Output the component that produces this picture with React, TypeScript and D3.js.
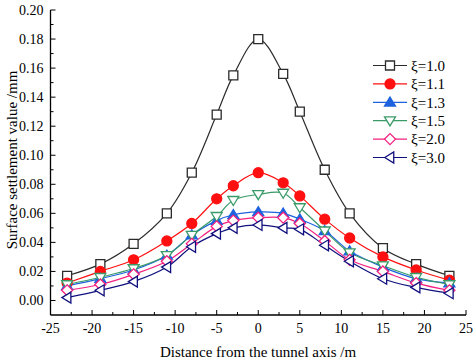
import { useEffect, useRef } from "react";
import * as d3 from "d3";

const distances = [-23, -19, -15, -11, -8, -5, -3, 0, 3, 5, 8, 11, 15, 19, 23];

const xi10 = [0.017, 0.025, 0.039, 0.060, 0.088, 0.128, 0.155, 0.180, 0.156, 0.130, 0.090, 0.060, 0.036, 0.025, 0.017];
const xi11 = [0.012, 0.020, 0.028, 0.041, 0.053, 0.070, 0.079, 0.088, 0.081, 0.072, 0.056, 0.043, 0.030, 0.021, 0.014];
const xi13 = [0.010, 0.015, 0.021, 0.031, 0.045, 0.055, 0.059, 0.061, 0.060, 0.056, 0.048, 0.034, 0.023, 0.015, 0.012];
const xi15 = [0.011, 0.016, 0.022, 0.031, 0.045, 0.058, 0.069, 0.073, 0.074, 0.064, 0.048, 0.033, 0.024, 0.016, 0.011];
const xi20 = [0.007, 0.011, 0.018, 0.027, 0.039, 0.051, 0.055, 0.057, 0.057, 0.053, 0.041, 0.028, 0.020, 0.012, 0.007];
const xi30 = [0.002, 0.007, 0.013, 0.023, 0.037, 0.046, 0.050, 0.052, 0.050, 0.049, 0.038, 0.027, 0.015, 0.009, 0.005];

const xTicks = [-25, -20, -15, -10, -5, 0, 5, 10, 15, 20, 25];
const yTicks = [0, 0.02, 0.04, 0.06, 0.08, 0.1, 0.12, 0.14, 0.16, 0.18, 0.2];

type Marker = "square" | "circle" | "up" | "down" | "diamond" | "left";

const series: { name: string; values: number[]; color: string; marker: Marker; filled: boolean }[] = [
  { name: "ξ=1.0", values: xi10, color: "#2b2b2b", marker: "square", filled: false },
  { name: "ξ=1.1", values: xi11, color: "#ff1010", marker: "circle", filled: true },
  { name: "ξ=1.3", values: xi13, color: "#1d62de", marker: "up", filled: true },
  { name: "ξ=1.5", values: xi15, color: "#3a9a68", marker: "down", filled: false },
  { name: "ξ=2.0", values: xi20, color: "#f5207f", marker: "diamond", filled: false },
  { name: "ξ=3.0", values: xi30, color: "#10107e", marker: "left", filled: false },
];

const markerPath = (m: Marker, s: number) => {
  const h = s / 2;
  switch (m) {
    case "square":
      return `M${-h},${-h}H${h}V${h}H${-h}Z`;
    case "circle":
      return d3.symbol(d3.symbolCircle, s * s * 0.785)() as string;
    case "up":
      return `M0,${-h * 1.05}L${h * 1.1},${h * 0.75}L${-h * 1.1},${h * 0.75}Z`;
    case "down":
      return `M0,${h * 1.05}L${h * 1.1},${-h * 0.75}L${-h * 1.1},${-h * 0.75}Z`;
    case "diamond":
      return `M0,${-h * 1.1}L${h * 1.1},0L0,${h * 1.1}L${-h * 1.1},0Z`;
    case "left":
      return `M${-h * 1.05},0L${h * 0.75},${-h * 1.1}L${h * 0.75},${h * 1.1}Z`;
  }
};

export default function App() {
  const svgRef = useRef<SVGSVGElement>(null);
  const width = 474;
  const height = 362;

  useEffect(() => {
    if (!svgRef.current) return;
    const svg = d3.select(svgRef.current);
    svg.selectAll("*").remove();

    const x = d3.scaleLinear().domain([-25, 25]).range([50.5, 466]);
    const y = d3.scaleLinear().domain([-0.01, 0.2]).range([315, 10]);
    const font = "'Liberation Serif', 'Times New Roman', serif";

    const g = svg.append("g");

    // axes lines
    g.append("line")
      .attr("x1", x(-25)).attr("x2", x(-25))
      .attr("y1", y(0.2)).attr("y2", y(-0.01))
      .attr("stroke", "#000").attr("stroke-width", 1.3);
    g.append("line")
      .attr("x1", x(-25)).attr("x2", x(25))
      .attr("y1", y(-0.01)).attr("y2", y(-0.01))
      .attr("stroke", "#000").attr("stroke-width", 1.3);

    // y ticks (inward)
    const yMinor = d3.range(0, 21).map(i => i * 0.01 - 0.0);
    g.selectAll("line.ytick")
      .data(yMinor)
      .join("line")
      .attr("x1", x(-25))
      .attr("x2", (d, i) => x(-25) + (i % 2 === 0 ? 5 : 3))
      .attr("y1", d => y(d))
      .attr("y2", d => y(d))
      .attr("stroke", "#000")
      .attr("stroke-width", 1);
    g.selectAll("text.ylab")
      .data(yTicks)
      .join("text")
      .attr("x", x(-25) - 7)
      .attr("y", d => y(d))
      .attr("dy", "0.35em")
      .attr("text-anchor", "end")
      .attr("font-family", font)
      .attr("font-size", 14)
      .text(d => d3.format(".2f")(d));

    // x ticks (inward)
    const xMinor = d3.range(0, 21).map(i => -25 + i * 2.5);
    g.selectAll("line.xtick")
      .data(xMinor)
      .join("line")
      .attr("x1", d => x(d))
      .attr("x2", d => x(d))
      .attr("y1", y(-0.01))
      .attr("y2", (d, i) => y(-0.01) - (i % 2 === 0 ? 5 : 3))
      .attr("stroke", "#000")
      .attr("stroke-width", 1);
    g.selectAll("text.xlab")
      .data(xTicks)
      .join("text")
      .attr("x", d => x(d))
      .attr("y", 333)
      .attr("text-anchor", "middle")
      .attr("font-family", font)
      .attr("font-size", 14)
      .text(d => String(d));

    // axis titles
    g.append("text")
      .attr("x", 258)
      .attr("y", 357)
      .attr("text-anchor", "middle")
      .attr("font-family", font)
      .attr("font-size", 15)
      .text("Distance from the tunnel axis /m");
    g.append("text")
      .attr("transform", `translate(17,160) rotate(-90)`)
      .attr("text-anchor", "middle")
      .attr("font-family", font)
      .attr("font-size", 15)
      .text("Surface settlement value /mm");

    const line = d3.line<number>()
      .x((d, i) => x(distances[i]))
      .y(d => y(d))
      .curve(d3.curveCatmullRom.alpha(0.5));

    series.forEach(s => {
      g.append("path")
        .datum(s.values)
        .attr("d", line)
        .attr("fill", "none")
        .attr("stroke", s.color)
        .attr("stroke-width", 1.2);
    });

    series.forEach(s => {
      g.selectAll(null)
        .data(s.values)
        .join("path")
        .attr("transform", (d, i) => `translate(${x(distances[i])},${y(d)})`)
        .attr("d", markerPath(s.marker, s.marker === "square" ? 9 : 10))
        .attr("fill", s.filled ? s.color : "#fff")
        .attr("stroke", s.color)
        .attr("stroke-width", 1.3);
    });

    // legend
    const leg = g.append("g").attr("transform", "translate(373,65.5)");
    series.forEach((s, i) => {
      const row = leg.append("g").attr("transform", `translate(0,${i * 18.4})`);
      row.append("line")
        .attr("x1", 0).attr("x2", 34)
        .attr("stroke", s.color).attr("stroke-width", 1.2);
      row.append("path")
        .attr("transform", "translate(17,0)")
        .attr("d", markerPath(s.marker, s.marker === "square" ? 9 : 10))
        .attr("fill", s.filled ? s.color : "#fff")
        .attr("stroke", s.color)
        .attr("stroke-width", 1.3);
      row.append("text")
        .attr("x", 38)
        .attr("dy", "0.35em")
        .attr("font-family", font)
        .attr("font-size", 15)
        .text(s.name);
    });
  }, []);

  return (
    <svg
      ref={svgRef}
      width={width}
      height={height}
      style={{ position: "absolute", left: 0, top: 0, background: "#fff" }}
    />
  );
}
